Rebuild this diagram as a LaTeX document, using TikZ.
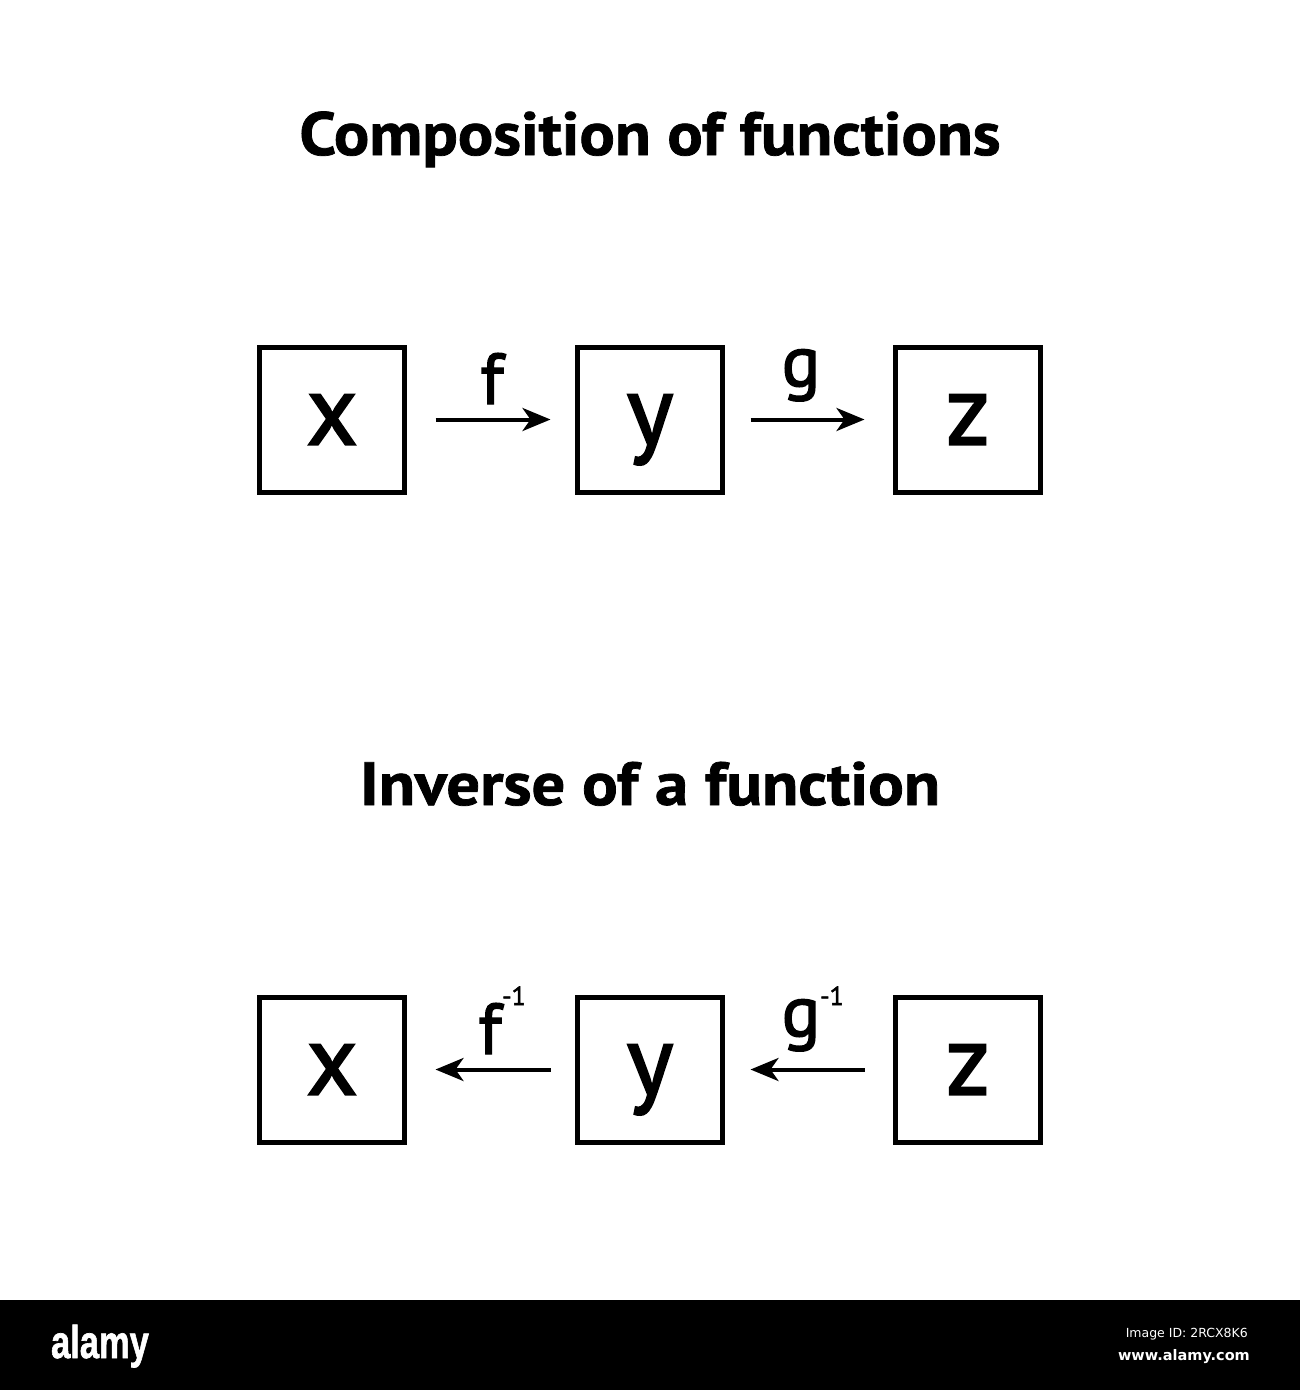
\documentclass[tikz,border=0pt]{standalone}
\usepackage{fontspec}
\setmainfont{PT Sans}
\newfontfamily\dinfont[FakeBold=2]{PT Sans}
\newfontfamily\titlefont[BoldFeatures={FakeBold=1.2}]{PT Sans}
\newfontfamily\wmfont{DejaVu Sans}
\newfontfamily\logofont[BoldFeatures={FakeBold=1.5}]{Liberation Sans}
\usetikzlibrary{arrows.meta}
\tikzset{
  box/.style={draw=black, line width=5pt, minimum width=145pt, minimum height=145pt,
    inner sep=0pt, outer sep=0pt, text height=50pt, text depth=0pt, font=\dinfont\fontsize{100}{100}\selectfont},
  lbl/.style={inner sep=0pt, anchor=base, font=\dinfont\fontsize{72}{72}\selectfont},
  suplbl/.style={inner sep=0pt, anchor=base west, font=\dinfont\fontsize{26}{26}\selectfont},
  title/.style={inner sep=0pt, anchor=base, font=\titlefont\bfseries\fontsize{61}{61}\selectfont},
  arr/.style={line width=4pt, -{Stealth[length=28pt,width=23pt,inset=8pt]}},
}
\begin{document}
\begin{tikzpicture}[x=1pt,y=-1pt]
\useasboundingbox (0,0) rectangle (1300,1390);
\fill[white] (0,0) rectangle (1300,1390);
% titles
\node[title] (t1) at (650,155) {\scalebox{1.08}[1]{Composition of functions}};
\node[title] (t2) at (650,805) {\scalebox{1.09}[1]{Inverse of a function}};
% top row
\node[box] (x1) at (332,419.5) {x};
\node[box] (y1) at (650,419.5) {y};
\node[box] (z1) at (968,419.5) {z};
\draw[arr, shorten <=31pt, shorten >=27pt] (x1) -- (y1);
\draw[arr, shorten <=28pt, shorten >=31pt] (y1) -- (z1);
\node[lbl] (f1) at (492,404) {f};
\node[lbl] (g1) at (801,386) {g};
% bottom row
\node[box] (x2) at (332,1069.5) {x};
\node[box] (y2) at (650,1069.5) {y};
\node[box] (z2) at (968,1069.5) {z};
\draw[arr, shorten <=27pt, shorten >=31pt] (y2) -- (x2);
\draw[arr, shorten <=31pt, shorten >=28pt] (z2) -- (y2);
\node[lbl] (f2) at (490,1054) {f};
\node[suplbl] (f2s) at (502,1005) {-1};
\node[lbl] (g2) at (801,1036) {g};
\node[suplbl] (g2s) at (820,1005) {-1};
% watermark bar
\fill[black] (0,1300) rectangle (1300,1390);
\node[inner sep=0pt, anchor=base, text=white, font=\logofont\bfseries\fontsize{46}{46}\selectfont] (logo) at (100,1358) {\scalebox{0.75}[1]{alamy}};
\node[inner sep=0pt, anchor=base east, text=white, font=\wmfont\fontsize{12.5}{12.5}\selectfont] (imgid) at (1248,1337) {Image ID: 2RCX8K6};
\node[inner sep=0pt, anchor=base east, text=white, font=\wmfont\bfseries\fontsize{14.5}{14.5}\selectfont] (www) at (1250,1360) {www.alamy.com};
\end{tikzpicture}
\end{document}
